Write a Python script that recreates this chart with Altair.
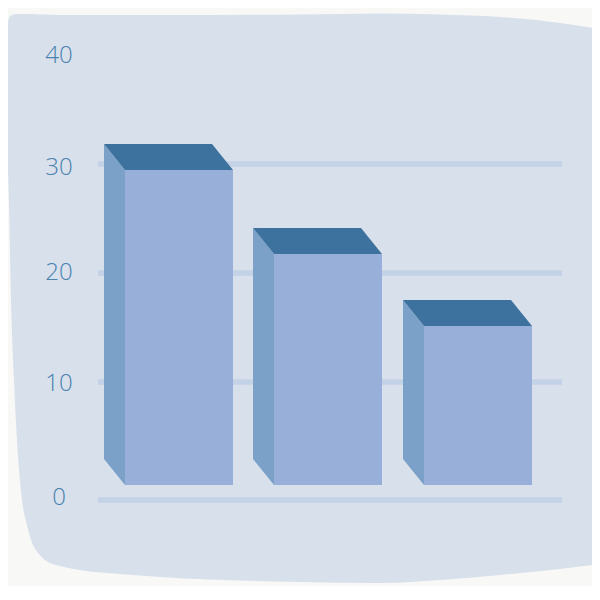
import altair as alt
import pandas as pd

# Positions along the horizontal axis and values on the vertical axis.
VALUE_PER_PIXEL = 1 / 10.9
def v(px):
    return (491 - px) * VALUE_PER_PIXEL

blob_x = [8, 9, 11, 14.3, 17, 22, 27, 33, 39, 45, 60, 80, 120, 160, 300, 380, 440, 500, 560, 593]
blob_top_px = [22, 18, 15.5, 14.5, 14, 14, 14, 14, 14.5, 14.5, 15, 15, 15, 15, 14.5, 13.5, 14.5, 17, 23, 28]
blob_bot_px = [170, 205, 300, 387, 440, 500, 525, 545, 554, 560, 566, 570, 574, 577, 582, 583, 580, 575, 569, 565]

grid_values = [-0.83, 10, 20, 30]
grid_start = [98]
grid_end = [562]

tick_labels = ["40", "30", "20", "10", "0"]
tick_label_pos = [39.91, 29.62, 20.02, 9.82, -0.64]
tick_label_x = [59]

bar_names = ["A", "B", "C"]
bar_left = [125, 274, 424]
bar_right = [233, 382, 532]
bar_values = [29.45, 21.74, 15.14]
bar_base = 0.55
depth_x = 21
depth_v = 2.39

W, H = 584, 578
x_scale = alt.Scale(domain=[8, 8 + W], range=[0, W], nice=False, zero=False)
y_scale = alt.Scale(domain=[v(8 + H), v(8)], range=[H, 0], nice=False, zero=False)
X = lambda f: alt.X(f, type="quantitative", scale=x_scale, axis=None)
Y = lambda f: alt.Y(f, type="quantitative", scale=y_scale, axis=None)

blob_df = pd.DataFrame({
    "x": blob_x,
    "y": [v(p) for p in blob_top_px],
    "y2": [v(p) for p in blob_bot_px],
})
blob = alt.Chart(blob_df).mark_area(color="#d8e0eb", interpolate="monotone", clip=True).encode(
    x=X("x"), y=Y("y"), y2="y2"
)

grid_df = pd.DataFrame({"v": grid_values, "a": grid_start * 4, "b": grid_end * 4})
grid = alt.Chart(grid_df).mark_rule(color="#c3d2e6", strokeWidth=5.5).encode(
    x=X("a"), x2="b", y=Y("v")
)

label_df = pd.DataFrame({"t": tick_labels, "v": tick_label_pos, "x": tick_label_x * 5})
labels = alt.Chart(label_df).mark_text(
    font="Open Sans", fontWeight=300, fontSize=24, color="#4a82b0",
    align="center", baseline="middle",
).encode(x=X("x"), y=Y("v"), text="t:N")

side_rows, top_rows = [], []
for n, l, r, val in zip(bar_names, bar_left, bar_right, bar_values):
    side_rows += [
        {"bar": n, "x": l - depth_x, "y": val + depth_v, "y2": bar_base + depth_v},
        {"bar": n, "x": l, "y": val, "y2": bar_base},
    ]
    top_rows += [
        {"bar": n, "x": l - depth_x, "y": val + depth_v, "y2": val + depth_v},
        {"bar": n, "x": l, "y": val + depth_v, "y2": val},
        {"bar": n, "x": r - depth_x, "y": val + depth_v, "y2": val},
        {"bar": n, "x": r, "y": val, "y2": val},
    ]

side = alt.Chart(pd.DataFrame(side_rows)).mark_area(color="#7ba1c9").encode(
    x=X("x"), y=Y("y"), y2="y2", detail="bar:N"
)
top = alt.Chart(pd.DataFrame(top_rows)).mark_area(color="#3e729e").encode(
    x=X("x"), y=Y("y"), y2="y2", detail="bar:N"
)
front_df = pd.DataFrame({"l": bar_left, "r": bar_right, "v": bar_values, "b": [bar_base] * 3})
front = alt.Chart(front_df).mark_rect(color="#98afd9").encode(
    x=X("l"), x2="r", y=Y("v"), y2="b"
)

chart = alt.layer(blob, grid, labels, side, top, front).properties(
    width=W, height=H, padding=0, background="#f8f8f6",
    autosize=alt.AutoSizeParams(type="none"),
).configure_view(stroke=None)

chart.save("out.html", embed_options={"renderer": "svg", "actions": False})
